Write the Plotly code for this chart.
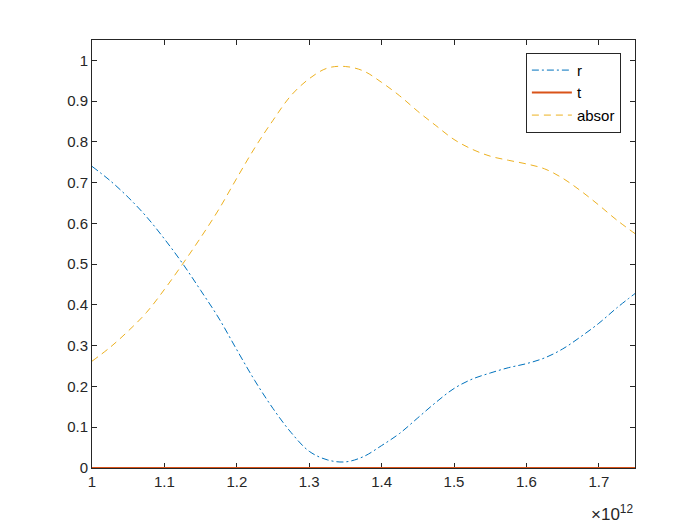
import plotly.graph_objects as go

# frequency in units of 1e12 Hz
freq = [1.000, 1.025, 1.050, 1.075, 1.100, 1.125, 1.150, 1.175, 1.200, 1.225,
        1.250, 1.275, 1.300, 1.325, 1.350, 1.375, 1.400, 1.425, 1.450, 1.475,
        1.500, 1.525, 1.550, 1.575, 1.600, 1.625, 1.650, 1.675, 1.700, 1.725,
        1.750]

r = [0.740, 0.705, 0.664, 0.617, 0.562, 0.502, 0.436, 0.368, 0.290, 0.214,
     0.146, 0.087, 0.041, 0.020, 0.015, 0.028, 0.055, 0.085, 0.123, 0.161,
     0.195, 0.218, 0.233, 0.246, 0.256, 0.270, 0.292, 0.322, 0.355, 0.393,
     0.428]

t = [0, 0, 0, 0, 0, 0, 0, 0, 0, 0,
     0, 0, 0, 0, 0, 0, 0, 0, 0, 0,
     0, 0, 0, 0, 0, 0, 0, 0, 0, 0,
     0]

absor = [0.262, 0.296, 0.336, 0.381, 0.438, 0.500, 0.565, 0.634, 0.711, 0.786,
         0.853, 0.914, 0.955, 0.981, 0.985, 0.974, 0.946, 0.913, 0.875, 0.840,
         0.806, 0.782, 0.765, 0.755, 0.746, 0.734, 0.711, 0.680, 0.645, 0.608,
         0.575]

x_ticks = [1.0, 1.1, 1.2, 1.3, 1.4, 1.5, 1.6, 1.7]
x_ticktext = ["1", "1.1", "1.2", "1.3", "1.4", "1.5", "1.6", "1.7"]
y_ticks = [0, 0.1, 0.2, 0.3, 0.4, 0.5, 0.6, 0.7, 0.8, 0.9, 1.0]
y_ticktext = ["0", "0.1", "0.2", "0.3", "0.4", "0.5", "0.6", "0.7", "0.8", "0.9", "1"]

FONT = "Liberation Sans, Arial, sans-serif"

fig = go.Figure()
fig.add_trace(go.Scatter(x=freq, y=r, mode="lines", name="r",
                         line=dict(color="#0072BD", width=1, dash="7px,3px,2px,3px", shape="spline")))
fig.add_trace(go.Scatter(x=freq, y=t, mode="lines", name="t",
                         line=dict(color="#D95319", width=2)))
fig.add_trace(go.Scatter(x=freq, y=absor, mode="lines", name="absor",
                         line=dict(color="#EDB120", width=1, dash="7px,5px", shape="spline")))

axis_common = dict(
    showgrid=False, zeroline=False, showline=True, linecolor="#262626", linewidth=1,
    mirror="ticks", ticks="inside", ticklen=5, tickcolor="#262626", tickwidth=1,
    tickfont=dict(family=FONT, size=15, color="#262626"), layer="below traces",
)

fig.update_layout(
    width=700, height=525,
    paper_bgcolor="white", plot_bgcolor="white",
    margin=dict(l=84, r=73, t=32, b=65),
    showlegend=True,
    legend=dict(
        x=0.974, y=0.970, xanchor="right", yanchor="top",
        bgcolor="white", bordercolor="#262626", borderwidth=1,
        font=dict(family=FONT, size=15, color="#000000"),
        tracegroupgap=0, itemwidth=40,
    ),
    xaxis=dict(range=[1.0, 1.75], tickvals=x_ticks, ticktext=x_ticktext, **axis_common),
    yaxis=dict(range=[0, 1.05], tickvals=y_ticks, ticktext=y_ticktext, **axis_common),
    annotations=[dict(
        text="×10<sup>12</sup>", xref="paper", yref="paper", x=1.0, y=-0.105,
        xanchor="right", yanchor="middle", showarrow=False,
        font=dict(family=FONT, size=17, color="#262626"),
    )],
)

fig.write_html("out.html")
